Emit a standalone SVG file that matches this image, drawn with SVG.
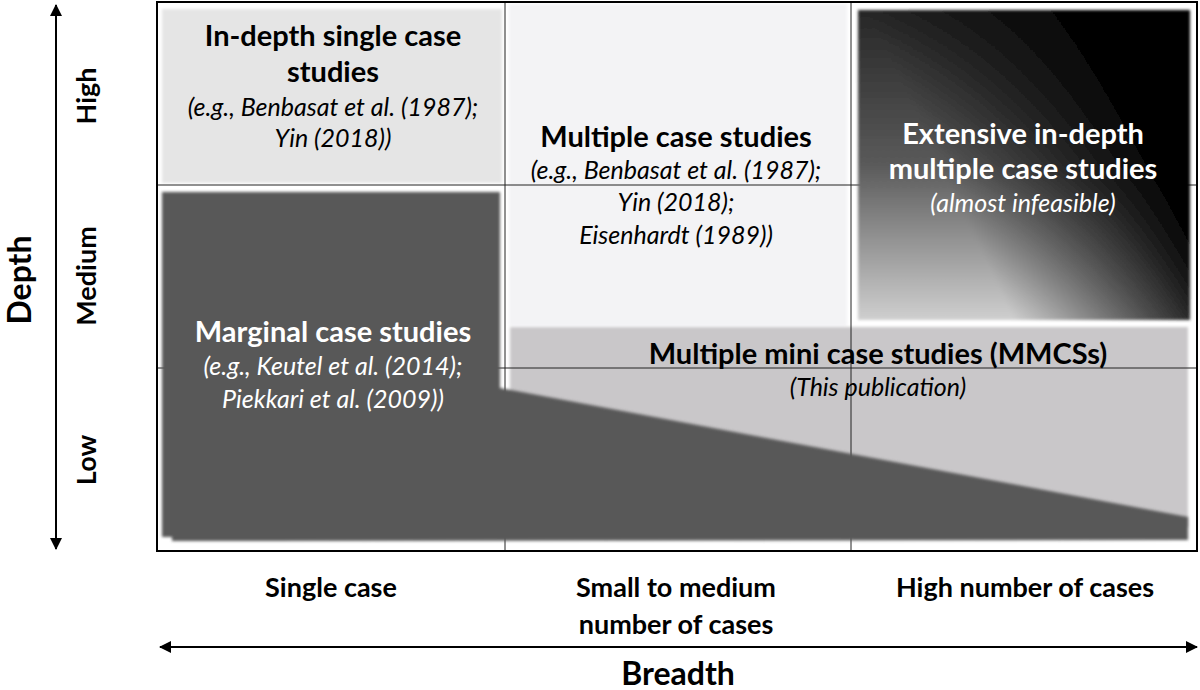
<svg xmlns="http://www.w3.org/2000/svg" width="1200" height="690" viewBox="0 0 1200 690">
<style>
text{font-family:Lato,"Open Sans","Liberation Sans",sans-serif;text-anchor:middle}
.h{font-weight:bold;font-size:29px}
.i{font-style:italic;font-size:25px}
.ax{font-weight:bold;font-size:27px}
.big{font-weight:bold;font-size:32px}
.w{fill:#fff}
.k{fill:#000}
.grid{stroke:#222;stroke-width:1;fill:none}
</style>
<defs>
<filter id="soft" x="-5%" y="-5%" width="110%" height="110%"><feGaussianBlur stdDeviation="1.6"/></filter>
<linearGradient id="gv" x1="0" y1="0" x2="0" y2="1">
<stop offset="0" stop-color="#262626"/>
<stop offset="0.5" stop-color="#5a5a5a"/>
<stop offset="1" stop-color="#cfcfcf"/>
</linearGradient>
<linearGradient id="gh" x1="0.1" y1="0.9" x2="1" y2="0.5">
<stop offset="0.3" stop-color="#000" stop-opacity="0"/>
<stop offset="0.92" stop-color="#000" stop-opacity="1"/>
</linearGradient>
<marker id="ah" viewBox="0 0 12 12" refX="11" refY="6" markerWidth="12" markerHeight="12" markerUnits="userSpaceOnUse" orient="auto-start-reverse">
<path d="M0,0 L12,6 L0,12 z" fill="#000"/>
</marker>
</defs>
<rect width="1200" height="690" fill="#fff"/>
<g id="fills">
<rect x="162" y="9" width="340" height="174" fill="#e5e5e5" filter="url(#soft)"/>
<rect x="509" y="4" width="338" height="322" fill="#f3f3f5" filter="url(#soft)"/>
<rect x="510" y="327" width="678" height="200" fill="#c9c7c9" filter="url(#soft)"/>
</g>
<g id="grid" class="grid">
<line x1="505" y1="2" x2="505" y2="551"/>
<line x1="851" y1="2" x2="851" y2="551"/>
<line x1="157" y1="185" x2="1197" y2="185"/>
<line x1="157" y1="368" x2="1197" y2="368"/>
</g>
<g id="marginal">
<polygon points="162,192 500,192 500,388 1188,517 1188,540 172,541 172,537 162,537" fill="#595959" filter="url(#soft)"/>
</g>
<g id="extensive">
<g filter="url(#soft)">
<rect x="858" y="10" width="332" height="310" fill="url(#gv)"/>
<rect x="858" y="10" width="332" height="310" fill="url(#gh)"/>
</g>
</g>
<rect x="157" y="2" width="1040" height="549" fill="none" stroke="#000" stroke-width="2"/>
<g id="t-indepth">
<text class="h k" x="333" y="46">In-depth single case</text>
<text class="h k" x="333" y="82">studies</text>
<text class="i k" x="333" y="116">(e.g., Benbasat et al. (1987);</text>
<text class="i k" x="333" y="147">Yin (2018))</text>
</g>
<g id="t-multiple">
<text class="h k" x="676" y="147">Multiple case studies</text>
<text class="i k" x="676" y="179">(e.g., Benbasat et al. (1987);</text>
<text class="i k" x="676" y="211">Yin (2018);</text>
<text class="i k" x="676" y="244">Eisenhardt (1989))</text>
</g>
<g id="t-extensive">
<text class="h w" x="1023" y="144">Extensive in-depth</text>
<text class="h w" x="1023" y="179">multiple case studies</text>
<text class="i w" x="1023" y="212">(almost infeasible)</text>
</g>
<g id="t-marginal">
<text class="h w" x="333" y="342">Marginal case studies</text>
<text class="i w" x="333" y="375">(e.g., Keutel et al. (2014);</text>
<text class="i w" x="333" y="408">Piekkari et al. (2009))</text>
</g>
<g id="t-mmcs">
<text class="h k" x="878" y="364">Multiple mini case studies (MMCSs)</text>
<text class="i k" x="878" y="396">(This publication)</text>
</g>
<g id="connectors">
<line x1="56" y1="5" x2="56" y2="549" stroke="#000" stroke-width="2" marker-start="url(#ah)" marker-end="url(#ah)"/>
<line x1="160" y1="647" x2="1197" y2="647" stroke="#000" stroke-width="2" marker-start="url(#ah)" marker-end="url(#ah)"/>
</g>
<g id="axes">
<text class="ax" transform="translate(96,96) rotate(-90)">High</text>
<text class="ax" transform="translate(96,276) rotate(-90)">Medium</text>
<text class="ax" transform="translate(96,460) rotate(-90)">Low</text>
<text class="big" transform="translate(31,280) rotate(-90)">Depth</text>
<text class="ax" x="331" y="597">Single case</text>
<text class="ax" x="676" y="597">Small to medium</text>
<text class="ax" x="676" y="634">number of cases</text>
<text class="ax" x="1025" y="597">High number of cases</text>
<text class="big" x="678" y="685">Breadth</text>
</g>
</svg>
